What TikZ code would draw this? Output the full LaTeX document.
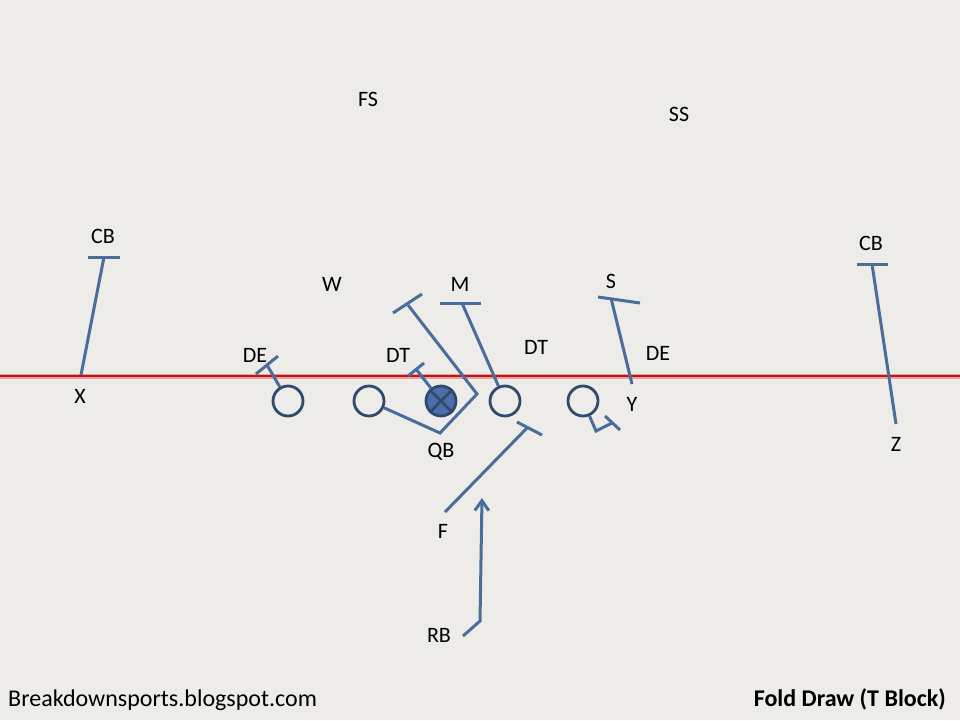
\documentclass[tikz,border=0pt]{standalone}
\usepackage{fontspec}
\setmainfont{Carlito}
\usetikzlibrary{arrows.meta}
\definecolor{bg}{RGB}{238,236,233}
\definecolor{route}{RGB}{74,110,155}
\definecolor{ring}{RGB}{47,74,107}
\definecolor{fillc}{RGB}{74,111,168}
\definecolor{los}{RGB}{196,18,18}
\definecolor{losedge}{RGB}{232,160,160}
\begin{document}
\begin{tikzpicture}[x=1pt,y=-1pt,
  lbl/.style={font=\fontsize{22}{22}\selectfont, inner sep=0pt, text=black},
  foot/.style={font=\fontsize{24}{24}\selectfont, inner sep=0pt, text=black},
  player/.style={circle, draw=ring, line width=2.8pt, minimum size=30pt, inner sep=0pt},
  blk/.style={draw=route, line width=3pt},
  ]
\fill[bg] (0,0) rectangle (960,720);
\useasboundingbox (0,0) rectangle (960,720);
% line of scrimmage
\draw[losedge, line width=5pt] (0,376) -- (960,376);
\draw[los, line width=2.8pt] (0,376) -- (960,376);

% offensive line
\node[player] (lt) at (288,401) {};
\node[player] (lg) at (369,401) {};
\node[player, fill=fillc] (c) at (441,401) {};
\draw[ring, line width=2.6pt] (c.north west) -- (c.south east);
\draw[ring, line width=2.6pt] (c.north east) -- (c.south west);
\node[player] (rg) at (505,401) {};
\node[player] (rt) at (583,401) {};

% labels
\node[lbl] (cbl) at (103,236) {CB};
\node[lbl] (xl) at (80,396) {X};
\node[lbl] (cbr) at (871,243) {CB};
\node[lbl] (zl) at (896,444) {Z};
\node[lbl] (fs) at (368,99) {FS};
\node[lbl] (ss) at (679,114) {SS};
\node[lbl] (wl) at (332,284) {W};
\node[lbl] (ml) at (460,284) {M};
\node[lbl] (sl) at (611,281) {S};
\node[lbl] (del) at (255,355) {DE};
\node[lbl] (dtl) at (398,355) {DT};
\node[lbl] (dtr) at (536,347) {DT};
\node[lbl] (der) at (658,353) {DE};
\node[lbl] (qb) at (441,452) {QB};
\node[lbl] (fl) at (443,531) {F};
\node[lbl] (rbl) at (439,635) {RB};
\node[lbl] (yl) at (632,404) {Y};

% coordinates
\coordinate (xs) at (81,375);
\coordinate (cblt) at (104,257);
\coordinate (cblb1) at (88,257);
\coordinate (cblb2) at (120,257);
\coordinate (zs) at (896,424);
\coordinate (cbrt) at (872,264);
\coordinate (cbrb1) at (857,264);
\coordinate (cbrb2) at (888,264);
\coordinate (delt) at (267,365);
\coordinate (delb1) at (256,374);
\coordinate (delb2) at (278,356);
\coordinate (dtlt) at (416,369);
\coordinate (dtlb1) at (408,376);
\coordinate (dtlb2) at (424,363);
\coordinate (f1) at (440,433);
\coordinate (f2) at (477,394);
\coordinate (f3) at (408,305);
\coordinate (f3b1) at (393,313);
\coordinate (f3b2) at (422,294);
\coordinate (mt) at (462,303);
\coordinate (mb1) at (440,303);
\coordinate (mb2) at (481,303);
\coordinate (ys) at (632,384);
\coordinate (st) at (611,298);
\coordinate (sb1) at (598,297);
\coordinate (sb2) at (640,303);
\coordinate (h1) at (596,431);
\coordinate (h2) at (612,423);
\coordinate (hb1) at (605,416);
\coordinate (hb2) at (620,430);
\coordinate (fs0) at (445,512);
\coordinate (ft) at (527,428);
\coordinate (fb1) at (517,422);
\coordinate (fb2) at (542,435);
\coordinate (rb0) at (463,636);
\coordinate (rb1) at (480,621);
\coordinate (rb2) at (482,498);

% routes and blocks
\draw[blk] (xs) -- (cblt);
\draw[blk] (cblb1) -- (cblb2);
\draw[blk] (zs) -- (cbrt);
\draw[blk] (cbrb1) -- (cbrb2);
\draw[blk] (lt) -- (delt);
\draw[blk] (delb1) -- (delb2);
\draw[blk] (c) -- (dtlt);
\draw[blk] (dtlb1) -- (dtlb2);
\draw[blk, line join=miter] (lg) -- (f1) -- (f2) -- (f3);
\draw[blk] (f3b1) -- (f3b2);
\draw[blk] (rg) -- (mt);
\draw[blk] (mb1) -- (mb2);
\draw[blk] (ys) -- (st);
\draw[blk] (sb1) -- (sb2);
\draw[blk] (rt) -- (h1) -- (h2);
\draw[blk] (hb1) -- (hb2);
\draw[blk] (fs0) -- (ft);
\draw[blk] (fb1) -- (fb2);
\draw[blk, -{Straight Barb[length=10pt,width=14pt]}] (rb0) -- (rb1) -- (rb2);

% footer
\node[foot, anchor=base west] (site) at (8,706) {Breakdownsports.blogspot.com};
\node[foot, anchor=base east, font=\fontsize{24}{24}\selectfont\bfseries] (title) at (946,706) {Fold Draw (T Block)};
\end{tikzpicture}
\end{document}
